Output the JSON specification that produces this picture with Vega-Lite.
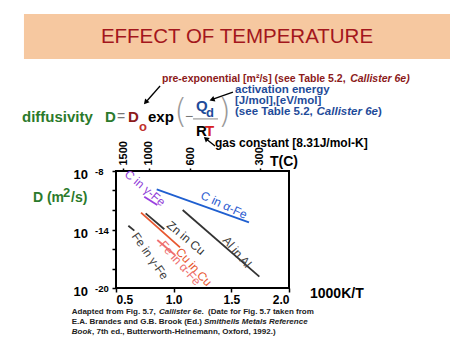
{
  "$schema": "https://vega.github.io/schema/vega-lite/v6.json",
  "width": 173,
  "height": 117,
  "autosize": {"type": "none"},
  "padding": {"left": 116, "top": 171, "right": 185, "bottom": 67},
  "background": "white",
  "config": {
    "view": {"stroke": "black", "strokeWidth": 2},
    "text": {"font": "Liberation Sans"},
    "axis": {"labelFont": "Liberation Sans", "labelColor": "black", "tickColor": "black", "domain": false, "grid": false}
  },
  "encoding": {
    "x": {"field": "x", "type": "quantitative", "scale": {"domain": [0.5, 2.0], "nice": false, "zero": false}, "axis": null},
    "y": {"field": "y", "type": "quantitative", "scale": {"domain": [-20, -8], "nice": false, "zero": false}, "axis": null}
  },
  "resolve": {"axis": {"x": "independent", "y": "independent"}},
  "layer": [
    {
      "data": {"values": [{"x": -0.298, "x2": 3.396, "y": 8.10, "y2": 3.49}]},
      "mark": {"type": "rect", "color": "#f6c8a0"},
      "encoding": {"x2": {"field": "x2"}, "y2": {"field": "y2"}}
    },
    {
      "data": {"values": [{"x": 1.549, "y": 5.74, "t": "EFFECT OF TEMPERATURE"}]},
      "mark": {"type": "text", "fontSize": 20.5, "color": "#a3161c", "align": "center", "baseline": "middle"},
      "encoding": {"text": {"field": "t"}}
    },
    {
      "data": {"values": [
        {"series": "C in α-Fe", "x": 0.853, "y": -9.88},
        {"series": "C in α-Fe", "x": 1.653, "y": -13.26},
        {"series": "C in γ-Fe", "x": 0.745, "y": -10.63},
        {"series": "C in γ-Fe", "x": 0.858, "y": -11.49},
        {"series": "Zn in Cu", "x": 0.757, "y": -12.34},
        {"series": "Zn in Cu", "x": 0.919, "y": -13.98},
        {"series": "Cu in Cu", "x": 0.717, "y": -12.27},
        {"series": "Cu in Cu", "x": 1.055, "y": -15.83},
        {"series": "Fe in α-Fe", "x": 0.858, "y": -15.08},
        {"series": "Fe in α-Fe", "x": 1.012, "y": -16.62},
        {"series": "Fe in γ-Fe", "x": 0.607, "y": -13.61},
        {"series": "Fe in γ-Fe", "x": 0.659, "y": -14.12},
        {"series": "Al in Al", "x": 1.078, "y": -12.0},
        {"series": "Al in Al", "x": 1.743, "y": -18.84}
      ]},
      "mark": {"type": "line", "strokeWidth": 1.8},
      "encoding": {
        "x": {"field": "x", "type": "quantitative", "scale": {"domain": [0.5, 2.0], "nice": false, "zero": false},
              "axis": {"orient": "bottom", "values": [0.5, 1.0, 1.5, 2.0], "format": ".1f", "title": null, "labelFontSize": 12, "labelFontWeight": "bold", "tickSize": 4, "tickWidth": 1.5, "labelPadding": 2}},
        "y": {"field": "y", "type": "quantitative", "scale": {"domain": [-20, -8], "nice": false, "zero": false},
              "axis": {"orient": "left", "values": [-8, -10, -12, -14, -16, -18, -20], "labels": false, "title": null, "tickSize": 4, "tickWidth": 1.5}},
        "color": {"field": "series", "type": "nominal", "legend": null,
                  "scale": {"domain": ["C in α-Fe", "C in γ-Fe", "Zn in Cu", "Cu in Cu", "Fe in α-Fe", "Fe in γ-Fe", "Al in Al"],
                            "range": ["#1f5fd0", "#9a40e0", "#333333", "#e8572f", "#f07070", "#333333", "#333333"]}},
        "detail": {"field": "series"}
      }
    },
    {
      "data": {"values": [{"x": 0.751, "y": -9.74, "t": "C in  γ-Fe"}]},
      "mark": {"type": "text", "fontSize": 12, "color": "#9040d8", "angle": 40, "align": "center", "baseline": "middle"},
      "encoding": {"text": {"field": "t"}}
    },
    {
      "data": {"values": [{"x": 1.436, "y": -11.49, "t": "C in   α-Fe"}]},
      "mark": {"type": "text", "fontSize": 12, "color": "#2a5bd0", "angle": 25, "align": "center", "baseline": "middle"},
      "encoding": {"text": {"field": "t"}}
    },
    {
      "data": {"values": [{"x": 1.107, "y": -14.87, "t": "Zn  in Cu"}]},
      "mark": {"type": "text", "fontSize": 12, "color": "#333333", "angle": 40, "align": "center", "baseline": "middle"},
      "encoding": {"text": {"field": "t"}}
    },
    {
      "data": {"values": [{"x": 1.176, "y": -17.85, "t": "Cu in Cu"}]},
      "mark": {"type": "text", "fontSize": 12, "color": "#e8572f", "angle": 48, "align": "center", "baseline": "middle"},
      "encoding": {"text": {"field": "t"}}
    },
    {
      "data": {"values": [{"x": 1.055, "y": -17.44, "t": "Fe in  α-Fe"}]},
      "mark": {"type": "text", "fontSize": 12, "color": "#ee6d6d", "angle": 48, "align": "center", "baseline": "middle"},
      "encoding": {"text": {"field": "t"}}
    },
    {
      "data": {"values": [{"x": 0.795, "y": -16.72, "t": "Fe in  γ-Fe"}]},
      "mark": {"type": "text", "fontSize": 12, "color": "#444444", "angle": 55, "align": "center", "baseline": "middle"},
      "encoding": {"text": {"field": "t"}}
    },
    {
      "data": {"values": [{"x": 1.549, "y": -16.31, "t": "Al in Al"}]},
      "mark": {"type": "text", "fontSize": 12, "color": "#444444", "angle": 49, "align": "center", "baseline": "middle"},
      "encoding": {"text": {"field": "t"}}
    },
    {
      "data": {"values": [{"x": 1.835, "y": -7.08, "t": "T(C)"}]},
      "mark": {"type": "text", "fontSize": 14, "fontWeight": "bold", "color": "black", "align": "left", "baseline": "middle"},
      "encoding": {
        "x": {"field": "x", "type": "quantitative", "scale": {"domain": [0.5, 2.0], "nice": false, "zero": false},
              "axis": {"orient": "top", "values": [0.56402, 0.78555, 1.14548, 1.7452], "labelExpr": "format(1000 / datum.value - 273, '.0f')", "title": null, "labelAngle": -90, "labelAlign": "left", "labelBaseline": "middle", "labelFontSize": 11, "labelFontWeight": "bold", "tickSize": 3, "tickWidth": 1.5, "labelPadding": 3}},
        "text": {"field": "t"}
      }
    },
    {
      "data": {"values": [{"x": 2.182, "y": -20.6, "t": "1000K/T"}]},
      "mark": {"type": "text", "fontSize": 14, "fontWeight": "bold", "color": "black", "align": "left", "baseline": "middle"},
      "encoding": {"text": {"field": "t"}}
    },
    {
      "data": {"values": [{"x": 0.257, "y": -8, "t": "10"}, {"x": 0.257, "y": -14, "t": "10"}, {"x": 0.257, "y": -20, "t": "10"}]},
      "mark": {"type": "text", "fontSize": 13, "fontWeight": "bold", "color": "black", "align": "right", "baseline": "middle", "dy": 4},
      "encoding": {"text": {"field": "t"}}
    },
    {
      "data": {"values": [{"x": 0.318, "y": -8, "t": "-8"}, {"x": 0.318, "y": -14, "t": "-14"}, {"x": 0.318, "y": -20, "t": "-20"}]},
      "mark": {"type": "text", "fontSize": 9.5, "fontWeight": "bold", "color": "black", "align": "left", "baseline": "middle", "dy": 1},
      "encoding": {"text": {"field": "t"}}
    },
    {
      "data": {"values": [{"x": -0.220, "y": -10.77, "t": "D (m"}]},
      "mark": {"type": "text", "fontSize": 14, "fontWeight": "bold", "color": "#2b7a2b", "align": "left", "baseline": "middle"},
      "encoding": {"text": {"field": "t"}}
    },
    {
      "data": {"values": [{"x": 0.040, "y": -10.77, "t": "2"}]},
      "mark": {"type": "text", "fontSize": 13, "fontWeight": "bold", "color": "#2b7a2b", "align": "left", "baseline": "middle", "dy": -5},
      "encoding": {"text": {"field": "t"}}
    },
    {
      "data": {"values": [{"x": 0.110, "y": -10.77, "t": "/s)"}]},
      "mark": {"type": "text", "fontSize": 14, "fontWeight": "bold", "color": "#2b7a2b", "align": "left", "baseline": "middle"},
      "encoding": {"text": {"field": "t"}}
    },
    {
      "data": {"values": [{"x": -0.315, "y": -2.46, "t": "diffusivity"}, {"x": 0.405, "y": -2.46, "t": "D"}]},
      "mark": {"type": "text", "fontSize": 15, "fontWeight": "bold", "color": "#2b7a2b", "align": "left", "baseline": "middle"},
      "encoding": {"text": {"field": "t"}}
    },
    {
      "data": {"values": [{"x": 0.509, "y": -2.46, "t": "="}, {"x": 1.098, "y": -2.46, "t": "−"}]},
      "mark": {"type": "text", "fontSize": 14, "color": "#777777", "align": "left", "baseline": "middle"},
      "encoding": {"text": {"field": "t"}}
    },
    {
      "data": {"values": [{"x": 0.604, "y": -2.46, "t": "D"}]},
      "mark": {"type": "text", "fontSize": 15, "fontWeight": "bold", "color": "#8c1a1a", "align": "left", "baseline": "middle"},
      "encoding": {"text": {"field": "t"}}
    },
    {
      "data": {"values": [{"x": 0.699, "y": -3.49, "t": "o"}]},
      "mark": {"type": "text", "fontSize": 13, "fontWeight": "bold", "color": "#c0302a", "align": "left", "baseline": "middle"},
      "encoding": {"text": {"field": "t"}}
    },
    {
      "data": {"values": [{"x": 0.777, "y": -2.46, "t": "exp"}, {"x": 1.194, "y": -3.9, "t": "R"}]},
      "mark": {"type": "text", "fontSize": 15, "fontWeight": "bold", "color": "black", "align": "left", "baseline": "middle"},
      "encoding": {"text": {"field": "t"}}
    },
    {
      "data": {"values": [{"x": 1.272, "y": -3.9, "t": "T"}]},
      "mark": {"type": "text", "fontSize": 15, "fontWeight": "bold", "color": "#d62020", "align": "left", "baseline": "middle"},
      "encoding": {"text": {"field": "t"}}
    },
    {
      "data": {"values": [{"x": 1.005, "y": -2.05, "t": "("}, {"x": 1.385, "y": -2.05, "t": ")"}]},
      "mark": {"type": "text", "font": "DejaVu Sans", "fontSize": 33, "fontWeight": 200, "color": "#999999", "align": "left", "baseline": "middle"},
      "encoding": {"text": {"field": "t"}}
    },
    {
      "data": {"values": [{"x": 1.194, "y": -1.33, "t": "Q"}]},
      "mark": {"type": "text", "fontSize": 15, "fontWeight": "bold", "color": "#1f4b99", "align": "left", "baseline": "middle"},
      "encoding": {"text": {"field": "t"}}
    },
    {
      "data": {"values": [{"x": 1.281, "y": -2.0, "t": "d"}]},
      "mark": {"type": "text", "fontSize": 13, "fontWeight": "bold", "color": "#1f4b99", "align": "left", "baseline": "middle"},
      "encoding": {"text": {"field": "t"}}
    },
    {
      "data": {"values": [{"x": 1.168, "x2": 1.384, "y": -2.66}]},
      "mark": {"type": "rule", "color": "#888888", "strokeWidth": 1},
      "encoding": {"x2": {"field": "x2"}}
    },
    {
      "data": {"values": [{"x": 0.899, "y": 1.44, "t": "pre-exponential [m²/s] (see Table 5.2, "}]},
      "mark": {"type": "text", "fontSize": 10.5, "fontWeight": "bold", "color": "#8c1a1a", "align": "left", "baseline": "middle"},
      "encoding": {"text": {"field": "t"}}
    },
    {
      "data": {"values": [{"x": 2.53, "y": 1.44, "t": "Callister 6e)"}]},
      "mark": {"type": "text", "fontSize": 10.5, "fontWeight": "bold", "fontStyle": "italic", "color": "#8c1a1a", "align": "left", "baseline": "middle"},
      "encoding": {"text": {"field": "t"}}
    },
    {
      "data": {"values": [
        {"x": 1.532, "y": 0.31, "t": "activation energy"},
        {"x": 1.532, "y": -0.82, "t": "[J/mol],[eV/mol]"},
        {"x": 1.532, "y": -1.95, "t": "(see Table 5.2, "},
        {"x": 2.772, "y": -1.95, "t": ")"}
      ]},
      "mark": {"type": "text", "fontSize": 11.5, "fontWeight": "bold", "color": "#1f4b99", "align": "left", "baseline": "middle"},
      "encoding": {"text": {"field": "t"}}
    },
    {
      "data": {"values": [{"x": 2.239, "y": -1.95, "t": "Callister 6e"}]},
      "mark": {"type": "text", "fontSize": 11.5, "fontWeight": "bold", "fontStyle": "italic", "color": "#1f4b99", "align": "left", "baseline": "middle"},
      "encoding": {"text": {"field": "t"}}
    },
    {
      "data": {"values": [{"x": 1.358, "y": -5.13, "t": "gas constant [8.31J/mol-K]"}]},
      "mark": {"type": "text", "fontSize": 12, "fontWeight": "bold", "color": "black", "align": "left", "baseline": "middle"},
      "encoding": {"text": {"field": "t"}}
    },
    {
      "data": {"values": [
        {"x": 0.882, "y": 0.718, "x2": 0.76, "y2": -0.92},
        {"x": 1.514, "y": 0.10, "x2": 1.335, "y2": -0.66},
        {"x": 1.358, "y": -5.44, "x2": 1.28, "y2": -4.70}
      ]},
      "mark": {"type": "rule", "color": "black", "strokeWidth": 1.3},
      "encoding": {"x2": {"field": "x2"}, "y2": {"field": "y2"}}
    },
    {
      "data": {"values": [{"x": 0.757, "y": -0.96}]},
      "mark": {"type": "point", "shape": "triangle-up", "filled": true, "color": "black", "opacity": 1, "size": 35, "angle": 221},
      "encoding": {}
    },
    {
      "data": {"values": [{"x": 1.332, "y": -0.68}]},
      "mark": {"type": "point", "shape": "triangle-up", "filled": true, "color": "black", "opacity": 1, "size": 35, "angle": 250},
      "encoding": {}
    },
    {
      "data": {"values": [{"x": 1.279, "y": -4.68}]},
      "mark": {"type": "point", "shape": "triangle-up", "filled": true, "color": "black", "opacity": 1, "size": 35, "angle": 311},
      "encoding": {}
    },
    {
      "data": {"values": [
        {"x": 0.116, "y": -22.43, "t": "Adapted from Fig. 5.7, "},
        {"x": 1.298, "y": -22.43, "t": "(Date for Fig. 5.7 taken from"},
        {"x": 0.116, "y": -23.46, "t": "E.A. Brandes and G.B. Brook (Ed.) "},
        {"x": 0.292, "y": -24.48, "t": ", 7th ed., Butterworth-Heinemann, Oxford, 1992.)"}
      ]},
      "mark": {"type": "text", "fontSize": 8, "fontWeight": "bold", "color": "#222222", "align": "left", "baseline": "middle"},
      "encoding": {"text": {"field": "t"}}
    },
    {
      "data": {"values": [
        {"x": 0.873, "y": -22.43, "t": "Callister 6e."},
        {"x": 1.263, "y": -23.46, "t": "Smithells Metals Reference"},
        {"x": 0.116, "y": -24.48, "t": "Book"}
      ]},
      "mark": {"type": "text", "fontSize": 8, "fontWeight": "bold", "fontStyle": "italic", "color": "#222222", "align": "left", "baseline": "middle"},
      "encoding": {"text": {"field": "t"}}
    }
  ]
}
